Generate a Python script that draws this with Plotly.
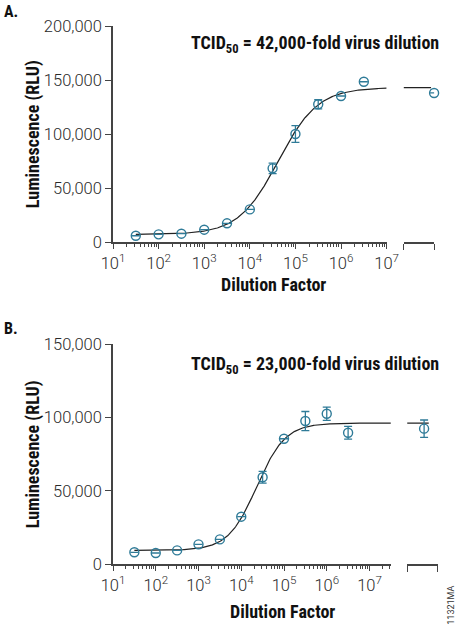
import numpy as np
import plotly.graph_objects as go

# half-log dilution series
dilution = [31.6, 100, 316, 1000, 3160, 10000, 31600, 100000, 316000, 1000000, 3160000]

# panel A
a_rlu = [5800, 7100, 7700, 11400, 17300, 30200, 68200, 100000, 127500, 135200, 148400]
a_err = [0, 0, 0, 0, 0, 0, 4900, 7700, 4200, 0, 0]
a_ctrl = 138000
a_ctrl_err = 0
a_fit = dict(bottom=7000, top=143000, ec50=42000, hill=1.0)

# panel B
b_rlu = [8000, 7500, 9300, 13400, 16800, 32300, 59200, 85500, 97600, 102600, 89600]
b_err = [0, 0, 0, 0, 0, 0, 4000, 0, 6500, 4500, 4300]
b_ctrl = 92400
b_ctrl_err = 5900
b_fit = dict(bottom=9300, top=96200, ec50=23000, hill=1.3)

y_ticks_a = [0, 50000, 100000, 150000, 200000]
y_ticks_b = [0, 50000, 100000, 150000]
decades = [1, 2, 3, 4, 5, 6, 7]

BLUE = "#2f7b98"
AXIS = "#444444"
FONT = "Roboto"


def four_pl(x, p):
    return p["bottom"] + (p["top"] - p["bottom"]) / (1 + (p["ec50"] / x) ** p["hill"])


def cond(text):
    # condensed face, like the original's Helvetica Condensed
    return f'<span style="font-stretch:75%">{text}</span>'


fig = go.Figure()


def add_panel(xa, xb, ya, rlu, err, ctrl, ctrl_err, fit, xmax, ctrl_pos, seg_end):
    xs = np.logspace(np.log10(dilution[0]), xmax, 300)
    fig.add_trace(go.Scatter(x=xs, y=four_pl(xs, fit), mode="lines",
                             line=dict(color="#222222", width=1.2),
                             xaxis=xa, yaxis=ya, hoverinfo="skip"))
    fig.add_trace(go.Scatter(x=dilution, y=rlu, mode="markers",
                             marker=dict(symbol="circle-open", size=9,
                                         color=BLUE, line=dict(width=1.4)),
                             error_y=dict(type="data", array=err, color=BLUE,
                                          thickness=1.3, width=4),
                             xaxis=xa, yaxis=ya))
    # no-virus control on the broken-off segment
    fig.add_trace(go.Scatter(x=[0, seg_end], y=[fit["top"]] * 2, mode="lines",
                             line=dict(color="#222222", width=1.2),
                             xaxis=xb, yaxis=ya, hoverinfo="skip"))
    fig.add_trace(go.Scatter(x=[ctrl_pos], y=[ctrl], mode="markers",
                             marker=dict(symbol="circle-open", size=9,
                                         color=BLUE, line=dict(width=1.4)),
                             error_y=dict(type="data", array=[ctrl_err], color=BLUE,
                                          thickness=1.3, width=4),
                             xaxis=xb, yaxis=ya, cliponaxis=False))


add_panel("x", "x2", "y", a_rlu, a_err, a_ctrl, a_ctrl_err, a_fit, 7, 1.0, 0.9)
add_panel("x3", "x4", "y2", b_rlu, b_err, b_ctrl, b_ctrl_err, b_fit, 7.5, 0.55, 0.7)

tick_font = dict(family=FONT, size=16.5, color="#2a2a2a", weight=300)


def log_axis(domain, anchor, xmax):
    minor_vals = [m * 10 ** k for k in range(1, 8) for m in range(2, 10)
                  if np.log10(m * 10 ** k) <= xmax]
    return dict(type="log", domain=domain, anchor=anchor, range=[1, xmax],
                tickmode="array", tickvals=[10 ** d for d in decades if d <= xmax],
                ticktext=[f"10<sup>{d}</sup>" for d in decades if d <= xmax],
                ticks="outside", ticklen=5, tickwidth=1.3, tickcolor=AXIS,
                showline=True, linecolor=AXIS, linewidth=1.5,
                showgrid=False, zeroline=False,
                minor=dict(tickmode="array", tickvals=minor_vals, ticks="outside",
                           ticklen=3, tickwidth=1, tickcolor=AXIS, showgrid=False),
                tickfont=tick_font)


def seg_axis(domain, anchor):
    return dict(domain=domain, anchor=anchor, range=[0, 1], tickmode="array",
                tickvals=[0, 1], showticklabels=False, ticks="outside",
                ticklen=6, tickwidth=1.3, tickcolor=AXIS, showline=True,
                linecolor=AXIS, linewidth=1.5, showgrid=False, zeroline=False)


def y_axis(domain, anchor, top, ticks):
    return dict(domain=domain, anchor=anchor, range=[0, top], tickmode="array",
                tickvals=ticks, tickformat=",", ticks="outside", ticklen=6,
                tickwidth=1.3, tickcolor=AXIS, showline=True, linecolor=AXIS,
                linewidth=1.5, showgrid=False, zeroline=False,
                tickfont=tick_font)


title_font = dict(family=FONT, size=18, color="#111111", weight="bold")
label_font = dict(family=FONT, size=16, color="#111111", weight="bold")

fig.update_layout(
    width=462, height=624,
    margin=dict(l=113, r=20, t=26, b=60),
    paper_bgcolor="white", plot_bgcolor="white",
    showlegend=False,
    xaxis=log_axis([0, 0.842], "y", 7),
    xaxis2=seg_axis([0.894, 0.988], "y"),
    xaxis3=log_axis([0, 0.855], "y2", 7.5),
    xaxis4=seg_axis([0.905, 1.0], "y2"),
    yaxis=y_axis([0.5985, 1.0], "x", 200000, y_ticks_a),
    yaxis2=y_axis([0, 0.4084], "x3", 150000, y_ticks_b),
    annotations=[
        dict(text=cond("A."), x=-0.343, y=1.0266, xanchor="left", font=label_font),
        dict(text=cond("B."), x=-0.343, y=0.4381, xanchor="left", font=label_font),
        dict(text=cond("TCID<sub>50</sub> = 42,000-fold virus dilution"),
             x=1.01, y=0.967, xanchor="right", font=title_font),
        dict(text=cond("TCID<sub>50</sub> = 23,000-fold virus dilution"),
             x=1.01, y=0.37, xanchor="right", font=title_font),
        dict(text=cond("Luminescence (RLU)"), x=-0.246, y=0.799, textangle=-90,
             xanchor="center", font=title_font),
        dict(text=cond("Luminescence (RLU)"), x=-0.246, y=0.204, textangle=-90,
             xanchor="center", font=title_font),
        dict(text=cond("Dilution Factor"), x=0.4945, y=0.5186, xanchor="center",
             font=title_font),
        dict(text=cond("Dilution Factor"), x=0.52, y=-0.0887, xanchor="center",
             font=title_font),
        dict(text="11321MA", x=1.0395, y=-0.076, textangle=-90, xanchor="center",
             font=dict(family=FONT, size=9, color="#333333")),
    ],
)
fig.update_annotations(xref="paper", yref="paper", showarrow=False, yanchor="middle")

fig.write_html("out.html", config={"displayModeBar": False},
               post_script="document.body.style.margin='0';")
